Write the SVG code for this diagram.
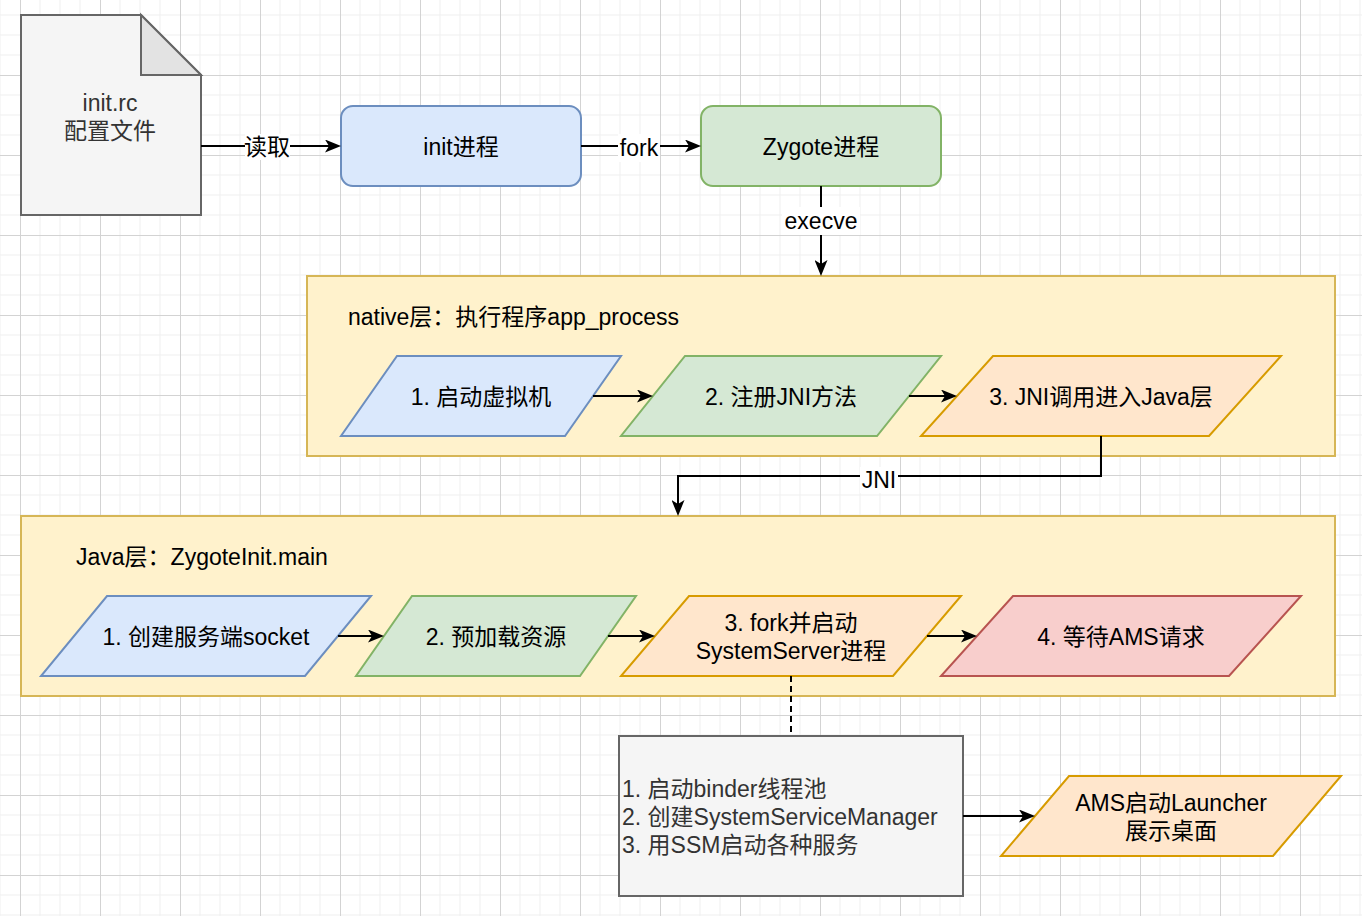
<svg xmlns="http://www.w3.org/2000/svg" width="1362" height="916" viewBox="0 0 1362 916">
<style>
text{font-family:"Liberation Sans","Noto Sans CJK SC",sans-serif;font-size:23px;fill:#000;dominant-baseline:central}
.c{text-anchor:middle}
.g{fill:#333}
.shape{stroke-width:2}
.blue{fill:#dae8fc;stroke:#6c8ebf}
.green{fill:#d5e8d4;stroke:#82b366}
.orange{fill:#ffe6cc;stroke:#d79b00}
.red{fill:#f8cecc;stroke:#b85450}
.yellow{fill:#fff2cc;stroke:#d6b656}
.gray{fill:#f5f5f5;stroke:#666}
.edge{fill:none;stroke:#000;stroke-width:2}
.lblbg{fill:#fff}
</style>
<defs>
<pattern id="grid" x="20" y="75" width="80" height="80" patternUnits="userSpaceOnUse">
<path d="M20,0V80M40,0V80M60,0V80M0,20H80M0,40H80M0,60H80" stroke="#efefef" stroke-width="1" fill="none"/>
<path d="M0.5,0V80M0,0.5H80" stroke="#d3d3d3" stroke-width="1" fill="none"/>
</pattern>
<marker id="arr" viewBox="0 0 16 13" refX="12" refY="6.5" markerWidth="16" markerHeight="13" markerUnits="userSpaceOnUse" orient="auto">
<path d="M0,0 L16,6.5 L0,13 L4,6.5 Z" fill="#000"/>
</marker>
</defs>
<rect width="1362" height="916" fill="#fff"/>
<rect width="1362" height="916" fill="url(#grid)"/>

<g id="initrc">
<path class="shape gray" d="M21,15 H141 L201,75 V215 H21 Z"/>
<path d="M141,15 V75 H201 Z" fill="#e3e3e3" stroke="#666" stroke-width="2" stroke-linejoin="miter"/>
<text class="c g" x="110" y="103">init.rc</text>
<text class="c g" x="110" y="131">配置文件</text>
</g>

<g id="init">
<rect class="shape blue" x="341" y="106" width="240" height="80" rx="12"/>
<text class="c" x="461" y="147">init进程</text>
</g>

<g id="zygote">
<rect class="shape green" x="701" y="106" width="240" height="80" rx="12"/>
<text class="c" x="821" y="147">Zygote进程</text>
</g>

<g id="native">
<rect class="shape yellow" x="307" y="276" width="1028" height="180"/>
<text x="348" y="317">native层：执行程序app_process</text>
</g>

<g id="n1">
<path class="shape blue" d="M397,356 H621 L565,436 H341 Z"/>
<text class="c" x="481" y="397">1. 启动虚拟机</text>
</g>
<g id="n2">
<path class="shape green" d="M685,356 H941 L877,436 H621 Z"/>
<text class="c" x="781" y="397">2. 注册JNI方法</text>
</g>
<g id="n3">
<path class="shape orange" d="M993,356 H1281 L1209,436 H921 Z"/>
<text class="c" x="1101" y="397">3. JNI调用进入Java层</text>
</g>

<g id="java">
<rect class="shape yellow" x="21" y="516" width="1314" height="180"/>
<text x="76" y="557">Java层：ZygoteInit.main</text>
</g>

<g id="j1">
<path class="shape blue" d="M107,596 H371 L305,676 H41 Z"/>
<text class="c" x="206" y="637">1. 创建服务端socket</text>
</g>
<g id="j2">
<path class="shape green" d="M412,596 H636 L580,676 H356 Z"/>
<text class="c" x="496" y="637">2. 预加载资源</text>
</g>
<g id="j3">
<path class="shape orange" d="M689,596 H961 L893,676 H621 Z"/>
<text class="c" x="791" y="623">3. fork并启动</text>
<text class="c" x="791" y="651">SystemServer进程</text>
</g>
<g id="j4">
<path class="shape red" d="M1013,596 H1301 L1229,676 H941 Z"/>
<text class="c" x="1121" y="637">4. 等待AMS请求</text>
</g>

<g id="systemserver">
<rect class="shape gray" x="619" y="736" width="344" height="160"/>
<text class="g" x="622" y="789">1. 启动binder线程池</text>
<text class="g" x="622" y="817">2. 创建SystemServiceManager</text>
<text class="g" x="622" y="845">3. 用SSM启动各种服务</text>
</g>

<g id="ams">
<path class="shape orange" d="M1069,776 H1341 L1273,856 H1001 Z"/>
<text class="c" x="1171" y="803">AMS启动Launcher</text>
<text class="c" x="1171" y="831">展示桌面</text>
</g>

<g id="connectors">
<path class="edge" d="M201,146 H337" marker-end="url(#arr)"/>
<rect class="lblbg" x="245" y="134" width="45" height="26"/>
<text class="c" x="267" y="147">读取</text>

<path class="edge" d="M581,146 H697" marker-end="url(#arr)"/>
<rect class="lblbg" x="618" y="134" width="42" height="28"/>
<text class="c" x="639" y="148">fork</text>

<path class="edge" d="M821,186 V272" marker-end="url(#arr)"/>
<rect class="lblbg" x="782" y="207" width="78" height="28"/>
<text class="c" x="821" y="221">execve</text>

<path class="edge" d="M593,396 H649" marker-end="url(#arr)"/>
<path class="edge" d="M909,396 H953" marker-end="url(#arr)"/>

<path class="edge" d="M1101,436 V476 H678 V512" marker-end="url(#arr)"/>
<rect class="lblbg" x="860" y="467" width="38" height="26"/>
<text class="c" x="879" y="480">JNI</text>

<path class="edge" d="M338,636 H380" marker-end="url(#arr)"/>
<path class="edge" d="M608,636 H651" marker-end="url(#arr)"/>
<path class="edge" d="M927,636 H973" marker-end="url(#arr)"/>

<path class="edge" d="M791,676 V736" stroke-dasharray="6 4"/>
<path class="edge" d="M963,816 H1031" marker-end="url(#arr)"/>
</g>
</svg>
